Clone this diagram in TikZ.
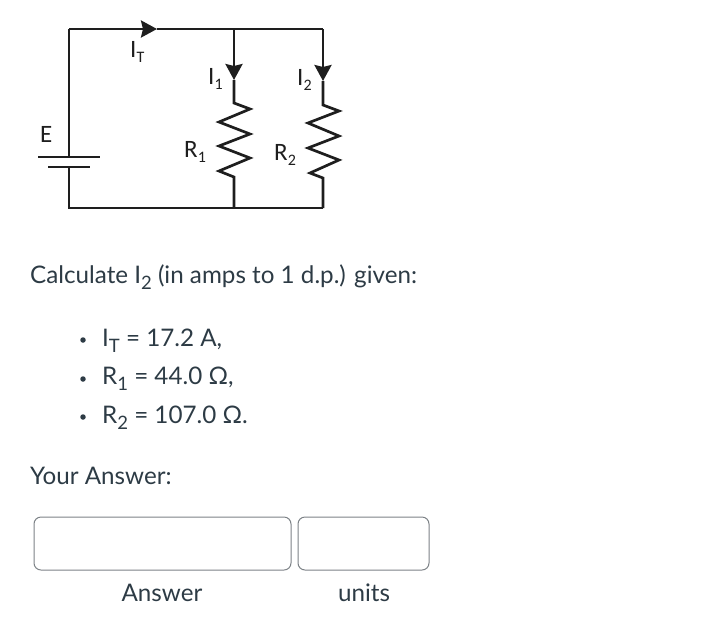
\documentclass[tikz,border=0pt]{standalone}
\usepackage{fontspec}
\setmainfont{Lato}
\newfontfamily\circuitfont{Carlito}
\usetikzlibrary{arrows.meta}
\definecolor{inktext}{RGB}{45,59,69}
\definecolor{inkwire}{RGB}{30,30,30}
\definecolor{boxedge}{RGB}{125,130,135}
\newcommand{\lowc}[1]{\raisebox{-0.2em}{\fontsize{16}{18}\selectfont #1}}
\newcommand{\lowb}[1]{\raisebox{-0.27em}{\fontsize{18.5}{20}\selectfont #1}}
\tikzset{
    wire/.style={line width=2.7pt, draw=inkwire, line join=miter},
    tipped/.style={wire, -{Stealth[length=16pt, width=17pt, inset=2pt]}},
    clabel/.style={anchor=base west, inner sep=0pt, text=inkwire, font=\fontsize{25}{28}\selectfont\circuitfont},
    body/.style={anchor=base west, inner sep=0pt, text=inktext, font=\fontsize{24.2}{28}\selectfont},
    bullet/.style={circle, fill=inktext, inner sep=0pt, minimum size=5.5pt},
    inputbox/.style={draw=boxedge, line width=1pt, rounded corners=7pt, fill=white}
}
\begin{document}
\begin{tikzpicture}[x=1pt,y=-1pt]
    \useasboundingbox (0,0) rectangle (706,638);

    % Corners and junctions of the circuit
    \coordinate (TL) at (69,29);
    \coordinate (TM) at (234,29);
    \coordinate (TR) at (323,29);
    \coordinate (BL) at (69,208);
    \coordinate (BM) at (234,208);
    \coordinate (BR) at (323,208);

    % Battery plates
    \coordinate (Ea) at (38,157);
    \coordinate (Eb) at (100,157);
    \coordinate (Ec) at (48,167);
    \coordinate (Ed) at (90,167);
    \coordinate (Eu) at (69,157);
    \coordinate (Ev) at (69,167);
    \draw[wire] (Ea) -- (Eb);
    \draw[wire] (Ec) -- (Ed);

    % Outer loop
    \coordinate (ITtip) at (157,29);
    \draw[tipped] (TL) -- (ITtip);
    \draw[wire] (ITtip) -- (TR);
    \draw[wire] (Eu) -- (TL);
    \draw[wire] (Ev) -- (BL) -- (BR);

    % Branch 1
    \coordinate (Iatip) at (234,80);
    \coordinate (Ra) at (234,103);
    \coordinate (Rb) at (234,177);
    \draw[tipped] (TM) -- (Iatip);
    \draw[wire] (Iatip) -- (Ra)
        -- ++(16,6) -- ++(-31,13) -- ++(31,12) -- ++(-31,12) -- ++(31,12) -- ++(-31,13) -- (Rb)
        -- (BM);

    % Branch 2
    \coordinate (Ibtip) at (323,81);
    \coordinate (Rc) at (323,105);
    \coordinate (Rd) at (323,178);
    \draw[tipped] (TR) -- (Ibtip);
    \draw[wire] (Ibtip) -- (Rc)
        -- ++(16,6) -- ++(-31,12) -- ++(31,13) -- ++(-31,12) -- ++(31,12) -- ++(-29,13) -- (Rd)
        -- (BR);

    % Circuit labels
    \node[clabel] (E) at (40,142) {E};
    \node[clabel] (IT) at (130,57) {I\lowc{T}};
    \node[clabel] (Ione) at (208,84) {I\lowc{1}};
    \node[clabel] (Itwo) at (297,85) {I\lowc{2}};
    \node[clabel] (Rone) at (184,157) {R\lowc{1}};
    \node[clabel] (Rtwo) at (274,160) {R\lowc{2}};

    % Question text
    \node[body] (question) at (30,283) {Calculate I\lowb{2} (in amps to 1 d.p.) given:};

    % List of values
    \foreach \y/\name in {340/dota,379/dotb,417/dotc} {
        \node[bullet] (\name) at (83,\y) {};
    }
    \node[body] (valT) at (102,346) {I\lowb{T} = 17.2 A,};
    \node[body] (valA) at (102,384) {R\lowb{1} = 44.0 Ω,};
    \node[body] (valB) at (102,423) {R\lowb{2} = 107.0 Ω.};

    % Answer area
    \node[body] (your) at (30,484) {Your Answer:};
    \draw[inputbox] (34,517) rectangle (291,570);
    \draw[inputbox] (298,517) rectangle (429,570);
    \node[body, anchor=base] (answer) at (162,601) {Answer};
    \node[body, anchor=base] (units) at (364,601) {units};
\end{tikzpicture}
\end{document}
